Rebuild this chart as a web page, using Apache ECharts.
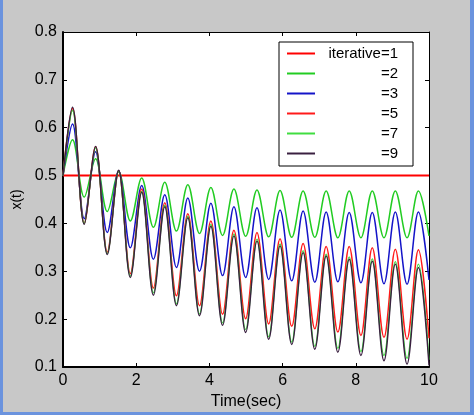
<!DOCTYPE html>
<html>
<head>
<meta charset="utf-8">
<script src="https://cdn.jsdelivr.net/npm/echarts@6/dist/echarts.min.js"></script>
<style>
html,body{margin:0;padding:0;background:#c8c8c8;}
#chart{width:474px;height:415px;}
</style>
</head>
<body>
<div id="chart"></div>
<script>
// Times of the read-off extrema (s)
const timeSec = [0, 0.26, 0.58, 0.89, 1.21, 1.52, 1.84, 2.15, 2.47, 2.78, 3.10, 3.41, 3.73, 4.04, 4.36, 4.67, 4.99, 5.30, 5.62, 5.93, 6.25, 6.56, 6.88, 7.19, 7.51, 7.82, 8.14, 8.45, 8.77, 9.08, 9.40, 9.71, 10.0];
const iter1Time = [0, 10];
const iter1 = [0.5, 0.5];
const iter2 = [0.5, 0.575, 0.455, 0.535, 0.425, 0.508, 0.405, 0.495, 0.392, 0.486, 0.384, 0.481, 0.379, 0.475, 0.375, 0.472, 0.373, 0.470, 0.372, 0.469, 0.371, 0.468, 0.371, 0.468, 0.370, 0.468, 0.370, 0.468, 0.370, 0.468, 0.370, 0.468, 0.374];
const iter3 = [0.5, 0.608, 0.41, 0.55, 0.381, 0.51, 0.349, 0.479, 0.325, 0.46, 0.308, 0.453, 0.300, 0.442, 0.291, 0.435, 0.287, 0.433, 0.283, 0.428, 0.280, 0.426, 0.277, 0.424, 0.278, 0.423, 0.276, 0.423, 0.274, 0.424, 0.273, 0.424, 0.282];
const iter5 = [0.5, 0.64, 0.40, 0.56, 0.34, 0.51, 0.295, 0.472, 0.265, 0.443, 0.249, 0.42, 0.228, 0.405, 0.21, 0.386, 0.201, 0.381, 0.19, 0.368, 0.185, 0.358, 0.18, 0.352, 0.173, 0.352, 0.166, 0.349, 0.162, 0.346, 0.158, 0.345, 0.16];
const iter7 = [0.5, 0.636, 0.40, 0.558, 0.337, 0.51, 0.29, 0.467, 0.255, 0.438, 0.232, 0.415, 0.211, 0.398, 0.192, 0.378, 0.178, 0.367, 0.163, 0.357, 0.152, 0.343, 0.143, 0.336, 0.139, 0.33, 0.132, 0.326, 0.124, 0.32, 0.118, 0.315, 0.115];
const iter9 = [0.5, 0.643, 0.398, 0.561, 0.335, 0.511, 0.287, 0.465, 0.25, 0.435, 0.228, 0.412, 0.207, 0.394, 0.187, 0.374, 0.172, 0.363, 0.158, 0.353, 0.147, 0.339, 0.137, 0.332, 0.131, 0.325, 0.124, 0.321, 0.113, 0.315, 0.106, 0.308, 0.103];
const seriesNames = ['iterative=1', '=2', '=3', '=5', '=7', '=9'];
const xTicks = {min: 0, max: 10, interval: 2};
const yTicks = {min: 0.1, max: 0.8, interval: 0.1};

const FONT = 'Liberation Sans';
const pair = (ts, vs) => ts.map((t, i) => [t, vs[i]]);

function lineSeries(name, data, color, width, z) {
  return {
    name: name, type: 'line', data: data, showSymbol: false, symbol: 'none',
    smooth: 0.35, z: z, animation: false,
    lineStyle: {color: color, width: width},
    itemStyle: {color: color}
  };
}

const axisCommon = {
  axisLine: {show: true, onZero: false, lineStyle: {color: '#000', width: 1}},
  axisTick: {show: true, inside: true, length: 4, lineStyle: {color: '#000', width: 1}},
  splitLine: {show: false}
};

const chart = echarts.init(document.getElementById('chart'), null, {renderer: 'canvas'});
chart.setOption({
  backgroundColor: '#c8c8c8',
  animation: false,
  textStyle: {fontFamily: FONT},
  grid: {left: 63, right: 45, top: 32, bottom: 47, show: true, backgroundColor: '#ffffff', borderWidth: 0},
  xAxis: [
    Object.assign({}, axisCommon, {
      type: 'value', position: 'bottom', min: xTicks.min, max: xTicks.max, interval: xTicks.interval,
      axisLine: {show: true, onZero: false, lineStyle: {color: '#000', width: 2}},
      axisLabel: {color: '#000', fontSize: 16, fontFamily: FONT, margin: 6},
      name: 'Time(sec)', nameLocation: 'middle', nameGap: 27,
      nameTextStyle: {color: '#000', fontSize: 16, fontFamily: FONT}
    }),
    Object.assign({}, axisCommon, {
      type: 'value', position: 'top', min: xTicks.min, max: xTicks.max, interval: xTicks.interval,
      axisLabel: {show: false}
    })
  ],
  yAxis: [
    Object.assign({}, axisCommon, {
      type: 'value', position: 'left', min: yTicks.min, max: yTicks.max, interval: yTicks.interval,
      axisLine: {show: true, onZero: false, lineStyle: {color: '#000', width: 2}},
      axisLabel: {color: '#000', fontSize: 16, fontFamily: FONT, margin: 6, formatter: v => v.toFixed(1)},
      name: 'x(t)', nameLocation: 'middle', nameGap: 36, nameRotate: 90,
      nameTextStyle: {color: '#000', fontSize: 14, fontFamily: FONT}
    }),
    Object.assign({}, axisCommon, {
      type: 'value', position: 'right', min: yTicks.min, max: yTicks.max, interval: yTicks.interval,
      axisLabel: {show: false}
    })
  ],
  legend: {
    orient: 'vertical', left: 279, top: 42,
    padding: [4, 15, 5, 8],
    backgroundColor: '#ffffff', borderColor: '#000', borderWidth: 1,
    itemWidth: 28, itemHeight: 2, itemGap: 5, itemTextGap: 5,
    icon: 'rect',
    data: seriesNames,
    formatter: name => '{a|' + name + '}',
    textStyle: {
      fontFamily: FONT, color: '#000', lineHeight: 15,
      rich: {a: {width: 78, align: 'right', fontSize: 15, lineHeight: 15, fontFamily: FONT, color: '#000'}}
    }
  },
  series: [
    lineSeries(seriesNames[0], pair(iter1Time, iter1), '#ff0000', 2, 2),
    lineSeries(seriesNames[1], pair(timeSec, iter2), '#22cc22', 1.5, 3),
    lineSeries(seriesNames[2], pair(timeSec, iter3), '#1414c8', 1.5, 4),
    lineSeries(seriesNames[3], pair(timeSec, iter5), '#ff1a1a', 1.5, 5),
    lineSeries(seriesNames[4], pair(timeSec, iter7), '#40dd40', 1.3, 6),
    lineSeries(seriesNames[5], pair(timeSec, iter9), '#3a2040', 1.4, 7)
  ],
  graphic: [
    {type: 'rect', left: 0, top: 0, shape: {width: 3, height: 415}, style: {fill: '#6b93de'}, z: 100},
    {type: 'rect', left: 470, top: 0, shape: {width: 4, height: 415}, style: {fill: '#6b93de'}, z: 100},
    {type: 'rect', left: 0, top: 412, shape: {width: 474, height: 3}, style: {fill: '#6b93de'}, z: 100}
  ]
});
</script>
</body>
</html>
